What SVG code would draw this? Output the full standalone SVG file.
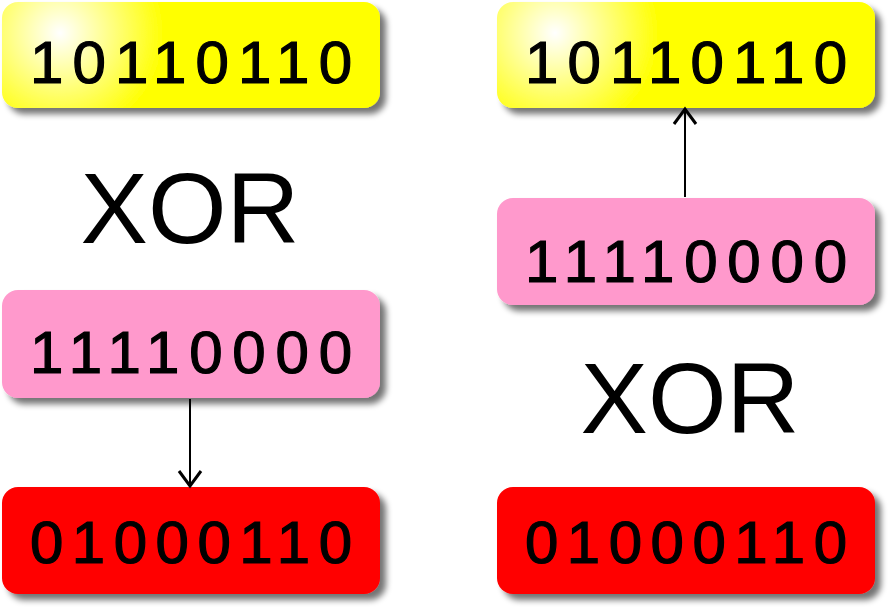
<svg xmlns="http://www.w3.org/2000/svg" width="895" height="612" viewBox="0 0 895 612">
<defs>
<filter id="sh" x="-10%" y="-20%" width="125%" height="150%">
<feGaussianBlur in="SourceAlpha" stdDeviation="3"/>
<feOffset dx="6" dy="6" result="b"/>
<feComponentTransfer><feFuncA type="linear" slope="0.55"/></feComponentTransfer>
<feMerge><feMergeNode/><feMergeNode in="SourceGraphic"/></feMerge>
</filter>
<radialGradient id="yg" cx="60" cy="33" r="150" gradientUnits="userSpaceOnUse">
<stop offset="0" stop-color="#ffffff"/>
<stop offset="0.7" stop-color="#ffff00"/>
<stop offset="1" stop-color="#ffff00"/>
</radialGradient>
<radialGradient id="yg2" cx="555" cy="33" r="150" gradientUnits="userSpaceOnUse">
<stop offset="0" stop-color="#ffffff"/>
<stop offset="0.7" stop-color="#ffff00"/>
<stop offset="1" stop-color="#ffff00"/>
</radialGradient>
<marker id="v" viewBox="-16 -13 18 26" refX="0" refY="0" markerWidth="18" markerHeight="26" markerUnits="userSpaceOnUse" orient="auto" overflow="visible">
<path d="M-15,-11 L0,0 L-15,11" fill="none" stroke="#000" stroke-width="3"/>
</marker>
<style>
.box{filter:url(#sh)}
.bits{font-family:"Liberation Sans",Arial,sans-serif;font-size:60px;fill:#000;stroke:#000;stroke-width:1.2;text-anchor:middle}
.xor{font-family:"Liberation Sans",Arial,sans-serif;font-size:101px;fill:#000;text-anchor:middle}
.conn{stroke:#000;stroke-width:2;fill:none}
</style>
</defs>
<rect width="895" height="612" fill="#ffffff"/>
<g id="left-top">
<rect class="box" x="2" y="2" width="378" height="106" rx="16" fill="url(#yg)"/>
<text class="bits" x="191" y="83" textLength="322" lengthAdjust="spacing">10110110</text>
</g>
<g id="left-xor">
<text class="xor" x="190" y="243">XOR</text>
</g>
<g id="left-mid">
<rect class="box" x="2" y="290" width="378" height="108" rx="16" fill="#ff99cc"/>
<text class="bits" x="191" y="373" textLength="322" lengthAdjust="spacing">11110000</text>
</g>
<g id="left-bottom">
<rect class="box" x="2" y="487" width="378" height="107" rx="16" fill="#ff0000"/>
<text class="bits" x="191" y="563" textLength="322" lengthAdjust="spacing">01000110</text>
</g>
<g id="right-top">
<rect class="box" x="497" y="2" width="378" height="106" rx="16" fill="url(#yg2)"/>
<text class="bits" x="686" y="83" textLength="322" lengthAdjust="spacing">10110110</text>
</g>
<g id="right-mid">
<rect class="box" x="497" y="198" width="378" height="107" rx="16" fill="#ff99cc"/>
<text class="bits" x="686" y="282" textLength="322" lengthAdjust="spacing">11110000</text>
</g>
<g id="right-xor">
<text class="xor" x="690" y="433">XOR</text>
</g>
<g id="right-bottom">
<rect class="box" x="497" y="487" width="378" height="107" rx="16" fill="#ff0000"/>
<text class="bits" x="686" y="563" textLength="322" lengthAdjust="spacing">01000110</text>
</g>
<g id="connectors">
<line class="conn" x1="190" y1="399" x2="190" y2="486" marker-end="url(#v)"/>
<line class="conn" x1="685" y1="197" x2="685" y2="109" marker-end="url(#v)"/>
</g>
</svg>
